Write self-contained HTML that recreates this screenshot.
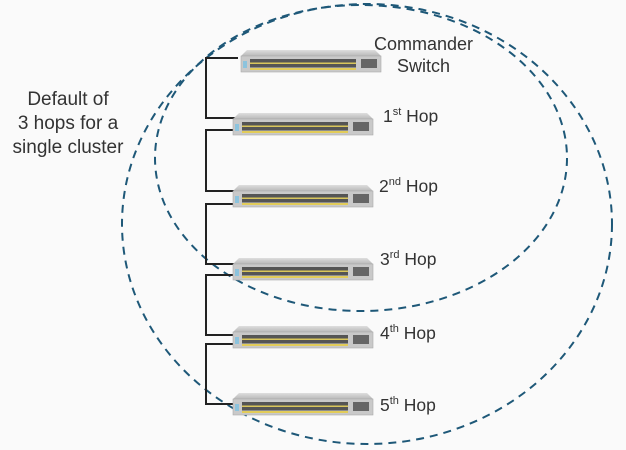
<!DOCTYPE html><html><head><style>
body{margin:0;width:626px;height:450px;background:#fafafa;overflow:hidden;position:relative;font-family:"Liberation Sans",sans-serif;color:#333}
.t{position:absolute;font-size:17.5px;line-height:20px;white-space:nowrap}
sup{font-size:11px;vertical-align:7px;line-height:0}
</style></head><body>
<svg width="626" height="450" style="position:absolute;left:0;top:0">
<defs>
<linearGradient id="tp" x1="0" y1="0" x2="0" y2="1"><stop offset="0" stop-color="#dedede"/><stop offset="1" stop-color="#b8b8b8"/></linearGradient>
<g id="sw">
<polygon points="6,0 134,0 140,6 0,6" fill="url(#tp)"/>
<rect x="0" y="6" width="140" height="16" fill="#c9c9c9"/>
<rect x="0" y="6" width="140" height="16" fill="none" stroke="#aaa" stroke-width="0.6"/>
<rect x="2" y="11" width="4" height="7" fill="#8cc3dd"/>
<rect x="9" y="9" width="106" height="3.5" fill="#555"/>
<rect x="9" y="14" width="106" height="3.5" fill="#555"/>
<rect x="9" y="18" width="106" height="2" fill="#e2cc5a"/>
<rect x="9" y="12.5" width="106" height="1.5" fill="#d9c65c"/>
<rect x="120" y="9" width="16" height="9" fill="#666"/>
</g>
</defs>
<g fill="none" stroke="#1e5878" stroke-width="2" stroke-dasharray="8,6">
<ellipse cx="361" cy="158" rx="206" ry="153"/>
<ellipse cx="367" cy="224" rx="245" ry="220"/>
</g>
<g fill="none" stroke="#222" stroke-width="2">
<polyline points="238,58 206,58 206,118 238,118"/>
<polyline points="236,130 206,130 206,191 238,191"/>
<polyline points="236,204 206,204 206,264 238,264"/>
<polyline points="236,275 206,275 206,335 238,335"/>
<polyline points="236,344 206,344 206,404 238,404"/>
</g>
<use href="#sw" x="241" y="50"/>
<use href="#sw" x="233" y="113"/>
<use href="#sw" x="233" y="185"/>
<use href="#sw" x="233" y="258"/>
<use href="#sw" x="233" y="326"/>
<use href="#sw" x="233" y="393"/>
</svg>
<div class="t" style="left:374px;top:34px;font-size:18px">Commander</div>
<div class="t" style="left:397px;top:56px;font-size:18px">Switch</div>
<div class="t" style="left:383px;top:106px">1<sup>st</sup> Hop</div>
<div class="t" style="left:379px;top:176px">2<sup>nd</sup> Hop</div>
<div class="t" style="left:380px;top:249px">3<sup>rd</sup> Hop</div>
<div class="t" style="left:380px;top:323px">4<sup>th</sup> Hop</div>
<div class="t" style="left:380px;top:395px">5<sup>th</sup> Hop</div>
<div class="t" style="left:0px;top:88px;width:136px;text-align:center;font-size:19px;line-height:24px;white-space:normal">Default of<br>3 hops for a<br>single cluster</div>
</body></html>
